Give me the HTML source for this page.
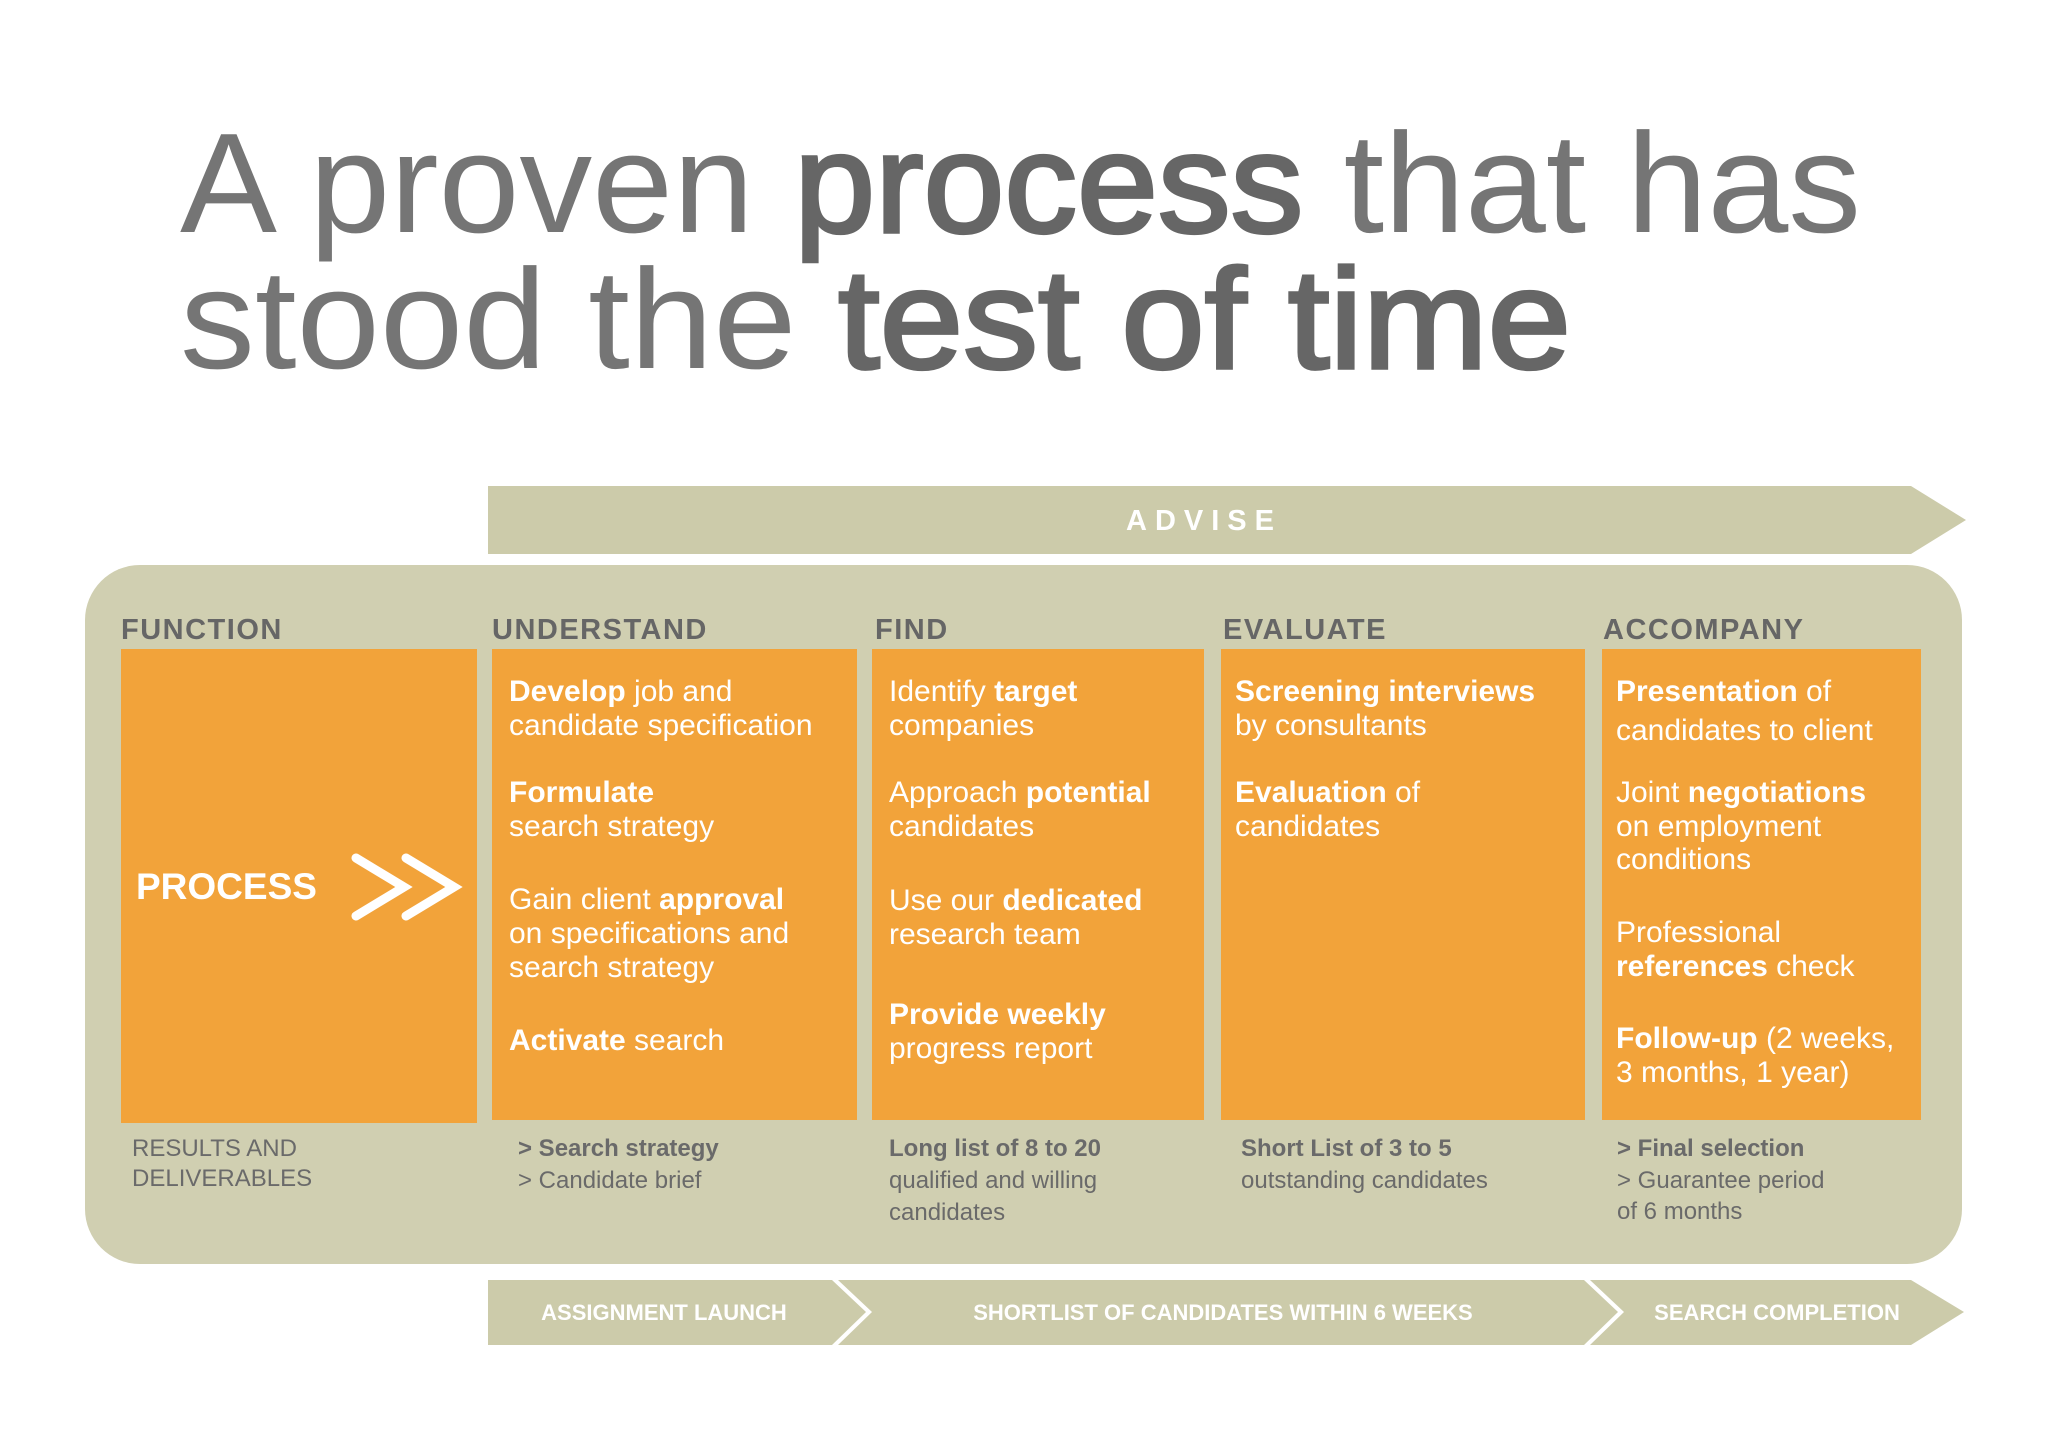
<!DOCTYPE html>
<html><head><meta charset="utf-8"><style>
html,body{margin:0;padding:0;background:#fff;}
svg{display:block;}
text{font-family:"Liberation Sans",sans-serif;}
.t{fill:#fff;font-size:30px;}
.b{font-weight:bold;}
.h{fill:#666;font-size:29px;font-weight:bold;letter-spacing:1.5px;}
.r{fill:#6a6a6a;font-size:24px;}
.w{fill:#fff;font-size:22px;font-weight:bold;}
</style></head><body>
<svg width="2048" height="1433" viewBox="0 0 2048 1433" xmlns="http://www.w3.org/2000/svg">
<rect width="2048" height="1433" fill="#fff"/>
<!-- title -->
<text x="180" y="232" font-size="142" fill="#757575" textLength="1681" lengthAdjust="spacingAndGlyphs">A proven <tspan fill="#666" stroke="#666" stroke-width="3.5">process</tspan> that has</text>
<text x="180" y="368" font-size="142" fill="#757575" textLength="1391" lengthAdjust="spacingAndGlyphs">stood the <tspan fill="#666" stroke="#666" stroke-width="3.5">test of time</tspan></text>
<!-- advise -->
<polygon points="488,486 1911,486 1966,520 1911,554 488,554" fill="#CCCBAA"/>
<text x="1204" y="530" text-anchor="middle" fill="#fff" font-size="29" font-weight="bold" letter-spacing="8">ADVISE</text>
<!-- panel -->
<rect x="85" y="565" width="1877" height="699" rx="55" fill="#D0CFB1"/>
<!-- headers -->
<text class="h" x="121" y="639">FUNCTION</text>
<text class="h" x="492" y="639">UNDERSTAND</text>
<text class="h" x="875" y="639">FIND</text>
<text class="h" x="1223" y="639">EVALUATE</text>
<text class="h" x="1603" y="639">ACCOMPANY</text>
<!-- orange boxes -->
<rect x="121" y="649" width="356" height="474" fill="#F2A33A"/>
<rect x="492" y="649" width="365" height="471" fill="#F2A33A"/>
<rect x="872" y="649" width="332" height="471" fill="#F2A33A"/>
<rect x="1221" y="649" width="364" height="471" fill="#F2A33A"/>
<rect x="1602" y="649" width="319" height="471" fill="#F2A33A"/>
<!-- process -->
<text x="136" y="899" fill="#fff" font-size="37" font-weight="bold">PROCESS</text>
<polyline points="356,858 404,887 356,916" fill="none" stroke="#fff" stroke-width="9" stroke-linecap="round"/>
<polyline points="406,858 454,887 406,916" fill="none" stroke="#fff" stroke-width="9" stroke-linecap="round"/>
<!-- understand -->
<text class="t" x="509" y="701"><tspan class="b">Develop</tspan> job and</text>
<text class="t" x="509" y="735">candidate specification</text>
<text class="t b" x="509" y="802">Formulate</text>
<text class="t" x="509" y="836">search strategy</text>
<text class="t" x="509" y="909">Gain client <tspan class="b">approval</tspan></text>
<text class="t" x="509" y="943">on specifications and</text>
<text class="t" x="509" y="977">search strategy</text>
<text class="t" x="509" y="1050"><tspan class="b">Activate</tspan> search</text>
<!-- find -->
<text class="t" x="889" y="701">Identify <tspan class="b">target</tspan></text>
<text class="t" x="889" y="735">companies</text>
<text class="t" x="889" y="802">Approach <tspan class="b">potential</tspan></text>
<text class="t" x="889" y="836">candidates</text>
<text class="t" x="889" y="910">Use our <tspan class="b">dedicated</tspan></text>
<text class="t" x="889" y="944">research team</text>
<text class="t b" x="889" y="1024">Provide weekly</text>
<text class="t" x="889" y="1058">progress report</text>
<!-- evaluate -->
<text class="t b" x="1235" y="701">Screening interviews</text>
<text class="t" x="1235" y="735">by consultants</text>
<text class="t" x="1235" y="802"><tspan class="b">Evaluation</tspan> of</text>
<text class="t" x="1235" y="836">candidates</text>
<!-- accompany -->
<text class="t" x="1616" y="701"><tspan class="b">Presentation</tspan> of</text>
<text class="t" x="1616" y="740">candidates to client</text>
<text class="t" x="1616" y="802">Joint <tspan class="b">negotiations</tspan></text>
<text class="t" x="1616" y="836">on employment</text>
<text class="t" x="1616" y="869">conditions</text>
<text class="t" x="1616" y="942">Professional</text>
<text class="t" x="1616" y="976"><tspan class="b">references</tspan> check</text>
<text class="t" x="1616" y="1048"><tspan class="b">Follow-up</tspan> (2 weeks,</text>
<text class="t" x="1616" y="1082">3 months, 1 year)</text>
<!-- results -->
<text class="r" x="132" y="1156">RESULTS AND</text>
<text class="r" x="132" y="1186">DELIVERABLES</text>
<text class="r b" x="518" y="1156">&gt; Search strategy</text>
<text class="r" x="518" y="1188">&gt; Candidate brief</text>
<text class="r b" x="889" y="1156">Long list of 8 to 20</text>
<text class="r" x="889" y="1188">qualified and willing</text>
<text class="r" x="889" y="1220">candidates</text>
<text class="r b" x="1241" y="1156">Short List of 3 to 5</text>
<text class="r" x="1241" y="1188">outstanding candidates</text>
<text class="r b" x="1617" y="1156">&gt; Final selection</text>
<text class="r" x="1617" y="1188">&gt; Guarantee period</text>
<text class="r" x="1617" y="1219">of 6 months</text>
<!-- bottom chevrons -->
<polygon points="488,1280 832,1280 866,1312 832,1345 488,1345" fill="#CCCBAA"/>
<polygon points="838,1280 1584,1280 1618,1312 1584,1345 838,1345 872,1312" fill="#CCCBAA"/>
<polygon points="1590,1280 1911,1280 1964,1312 1911,1345 1590,1345 1624,1312" fill="#CCCBAA"/>
<text class="w" x="664" y="1320" text-anchor="middle">ASSIGNMENT LAUNCH</text>
<text class="w" x="1223" y="1320" text-anchor="middle">SHORTLIST OF CANDIDATES WITHIN 6 WEEKS</text>
<text class="w" x="1777" y="1320" text-anchor="middle">SEARCH COMPLETION</text>
</svg>
</body></html>
